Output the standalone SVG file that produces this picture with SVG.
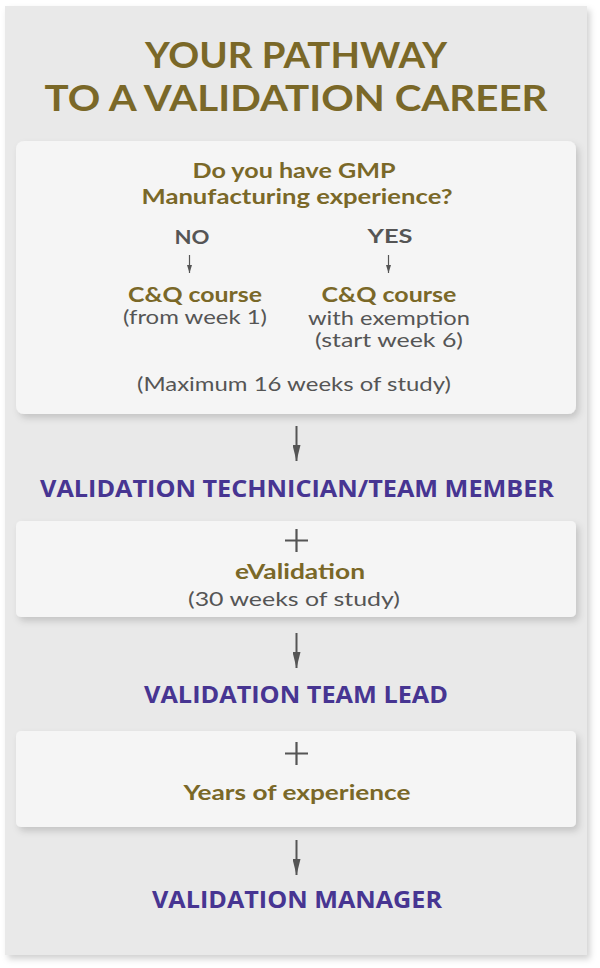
<svg xmlns="http://www.w3.org/2000/svg" width="600" height="968" viewBox="0 0 600 968">
<defs>
<filter id="panelShadow" x="-5%" y="-5%" width="112%" height="112%">
<feDropShadow dx="3" dy="4" stdDeviation="3" flood-color="#000" flood-opacity="0.18"/>
</filter>
<filter id="boxShadow" x="-5%" y="-10%" width="112%" height="130%">
<feDropShadow dx="3" dy="4" stdDeviation="3.5" flood-color="#000" flood-opacity="0.16"/>
</filter>
<marker id="bigHead" viewBox="0 0 16 8" refX="16" refY="4" markerWidth="16" markerHeight="8" markerUnits="userSpaceOnUse" orient="auto">
<path d="M0,0 L16,4 L0,8 Z" fill="#555"/>
</marker>
<marker id="smallHead" viewBox="0 0 8 5" refX="8" refY="2.5" markerWidth="8" markerHeight="5" markerUnits="userSpaceOnUse" orient="auto">
<path d="M0,0 L8,2.5 L0,5 Z" fill="#555"/>
</marker>
<style>
.panel{fill:#e9e9e9;}
.box{fill:#f5f5f5;}
.title{font-family:Lato,"Liberation Sans",sans-serif;font-weight:700;font-size:36px;fill:#7a6828;text-anchor:middle;}
.olive{font-family:Lato,"Liberation Sans",sans-serif;font-weight:700;font-size:21px;fill:#7a6828;text-anchor:middle;}
.gray{font-family:Lato,"Liberation Sans",sans-serif;font-weight:400;font-size:19px;fill:#555;text-anchor:middle;}
.choice{font-family:Lato,"Liberation Sans",sans-serif;font-weight:700;font-size:19px;fill:#555;text-anchor:middle;}
.role{font-family:"Open Sans","Liberation Sans",sans-serif;font-weight:700;font-size:23.5px;fill:#473592;text-anchor:middle;}
.big{stroke:#555;stroke-width:2;fill:none;}
.small{stroke:#555;stroke-width:1.2;fill:none;}
.plus{stroke:#555;stroke-width:2.2;fill:none;}
</style>
</defs>
<rect x="0" y="0" width="600" height="968" fill="#ffffff"/>
<rect class="panel" x="5" y="6" width="582" height="949" filter="url(#panelShadow)"/>

<g id="title">
<text class="title" x="296" y="68" textLength="302" lengthAdjust="spacingAndGlyphs">YOUR PATHWAY</text>
<text class="title" x="296" y="111" textLength="503" lengthAdjust="spacingAndGlyphs">TO A VALIDATION CAREER</text>
</g>

<g id="node-question">
<rect class="box" x="16" y="141" width="560" height="273" rx="8" filter="url(#boxShadow)"/>
<text class="olive" x="294" y="178" textLength="203" lengthAdjust="spacingAndGlyphs">Do you have GMP</text>
<text class="olive" x="297" y="204" textLength="311" lengthAdjust="spacingAndGlyphs">Manufacturing experience?</text>
<text class="choice" x="192" y="244" textLength="35" lengthAdjust="spacingAndGlyphs">NO</text>
<text class="choice" x="390" y="243" textLength="45" lengthAdjust="spacingAndGlyphs">YES</text>
<text class="olive" x="195" y="302" textLength="134" lengthAdjust="spacingAndGlyphs">C&amp;Q course</text>
<text class="gray" x="195" y="324" textLength="144" lengthAdjust="spacingAndGlyphs">(from week 1)</text>
<text class="olive" x="389" y="302" textLength="135" lengthAdjust="spacingAndGlyphs">C&amp;Q course</text>
<text class="gray" x="389" y="325" textLength="162" lengthAdjust="spacingAndGlyphs">with exemption</text>
<text class="gray" x="389" y="347" textLength="148" lengthAdjust="spacingAndGlyphs">(start week 6)</text>
<text class="gray" x="294" y="391" textLength="314" lengthAdjust="spacingAndGlyphs">(Maximum 16 weeks of study)</text>
</g>

<g id="node-technician">
<text class="role" x="297" y="497" textLength="514" lengthAdjust="spacingAndGlyphs">VALIDATION TECHNICIAN/TEAM MEMBER</text>
</g>

<g id="node-evalidation">
<rect class="box" x="16" y="521" width="560" height="96" rx="5" filter="url(#boxShadow)"/>
<path class="plus" d="M285,540.5 H308 M296.5,529 V552"/>
<text class="olive" x="300" y="579" textLength="130" lengthAdjust="spacingAndGlyphs">eValidation</text>
<text class="gray" x="294" y="606" textLength="212" lengthAdjust="spacingAndGlyphs">(30 weeks of study)</text>
</g>

<g id="node-teamlead">
<text class="role" x="296" y="703" textLength="304" lengthAdjust="spacingAndGlyphs">VALIDATION TEAM LEAD</text>
</g>

<g id="node-experience">
<rect class="box" x="16" y="731" width="560" height="96" rx="5" filter="url(#boxShadow)"/>
<path class="plus" d="M285,753.5 H308 M296.5,742 V765"/>
<text class="olive" x="297" y="800" textLength="227" lengthAdjust="spacingAndGlyphs">Years of experience</text>
</g>

<g id="node-manager">
<text class="role" x="297" y="908" textLength="290" lengthAdjust="spacingAndGlyphs">VALIDATION MANAGER</text>
</g>

<g id="connectors">
<line class="small" x1="189.5" y1="255" x2="189.5" y2="273" marker-end="url(#smallHead)"/>
<line class="small" x1="388.5" y1="255" x2="388.5" y2="273" marker-end="url(#smallHead)"/>
<line class="big" x1="296.5" y1="426" x2="296.5" y2="461" marker-end="url(#bigHead)"/>
<line class="big" x1="296.5" y1="633" x2="296.5" y2="668" marker-end="url(#bigHead)"/>
<line class="big" x1="296.5" y1="840" x2="296.5" y2="875" marker-end="url(#bigHead)"/>
</g>
</svg>
